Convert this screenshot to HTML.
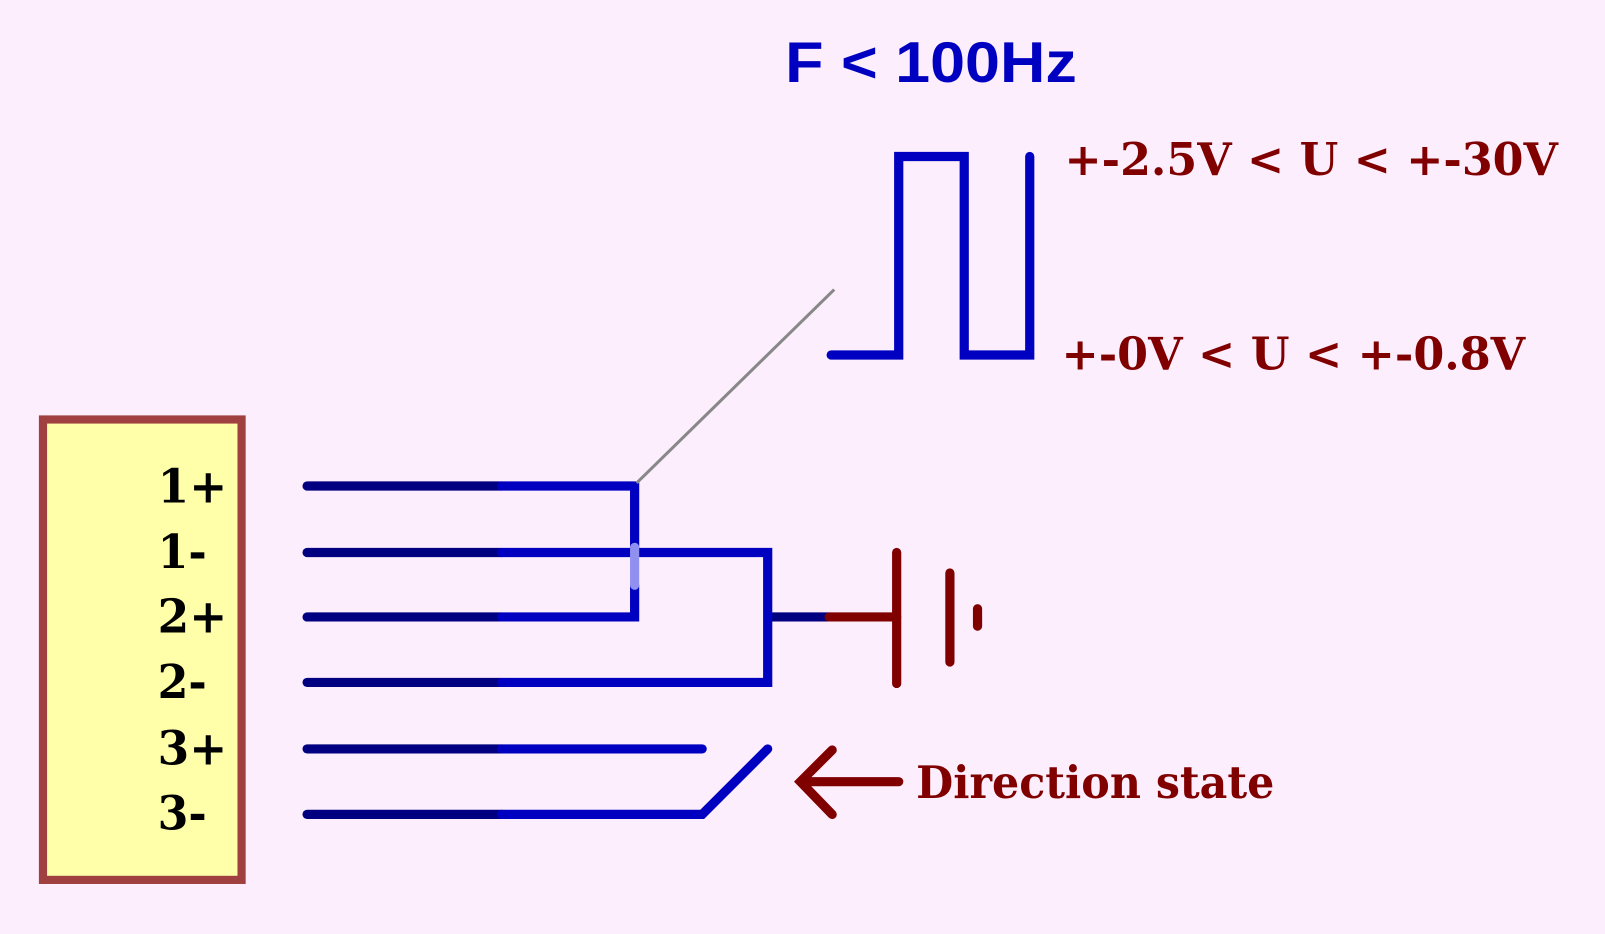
<!DOCTYPE html>
<html><head><style>html,body{margin:0;padding:0;background:#fdeefd}</style></head><body>
<svg width="1605" height="929" viewBox="0 0 1568 908" preserveAspectRatio="none" xmlns="http://www.w3.org/2000/svg">
<rect width="1568" height="908" fill="#fdeefd"/>
<rect x="42" y="410" width="194" height="450" fill="#ffffaa" stroke="#a04040" stroke-width="8"/>
<g font-family="DejaVu Serif, Liberation Serif, serif" font-weight="bold" font-size="46" fill="#000">
<text x="154" y="491" textLength="68" lengthAdjust="spacingAndGlyphs">1+</text>
<text x="154" y="555" textLength="48" lengthAdjust="spacingAndGlyphs">1-</text>
<text x="154" y="618" textLength="68" lengthAdjust="spacingAndGlyphs">2+</text>
<text x="154" y="682" textLength="48" lengthAdjust="spacingAndGlyphs">2-</text>
<text x="154" y="747" textLength="68" lengthAdjust="spacingAndGlyphs">3+</text>
<text x="154" y="811" textLength="48" lengthAdjust="spacingAndGlyphs">3-</text>
</g>
<g stroke-width="9" stroke-linecap="round" stroke-linejoin="miter" fill="none">
<g stroke="#000080">
<line x1="300" y1="475" x2="490" y2="475"/><line x1="300" y1="540" x2="490" y2="540"/>
<line x1="300" y1="603" x2="490" y2="603"/><line x1="300" y1="667" x2="490" y2="667"/>
<line x1="300" y1="732" x2="490" y2="732"/><line x1="300" y1="796" x2="490" y2="796"/>
<line x1="752" y1="603" x2="810" y2="603"/>
</g>
<g stroke="#0000c0">
<polyline points="490,475 620,475 620,535"/>
<polyline points="490,603 620,603 620,572" />
<polyline points="490,540 750,540 750,667 490,667"/>
<line x1="490" y1="732" x2="686" y2="732"/>
<polyline points="490,796 686,796 750,732"/>
<polyline points="812,347 878,347 878,153 942,153 942,347 1006,347 1006,153"/>
</g>
<line x1="620" y1="535" x2="620" y2="572" stroke="#9090f0"/>
<g stroke="#800000">
<line x1="810" y1="603" x2="876" y2="603"/>
<line x1="876" y1="540" x2="876" y2="668"/>
<line x1="928" y1="560" x2="928" y2="647"/>
<line x1="955" y1="595" x2="955" y2="612"/>
<line x1="785" y1="764" x2="878" y2="764"/>
<polyline points="813,733 782,764 813,796"/>
</g>
</g>
<line x1="622" y1="472" x2="815" y2="283" stroke="#888" stroke-width="3"/>
<text x="767" y="80" font-family="Liberation Sans, sans-serif" font-weight="bold" font-size="56" fill="#0000c0" textLength="285" lengthAdjust="spacingAndGlyphs">F &lt; 100Hz</text>
<g font-family="DejaVu Serif, Liberation Serif, serif" font-weight="bold" font-size="44" fill="#800000">
<text x="1040" y="171" textLength="482" lengthAdjust="spacingAndGlyphs">+-2.5V &lt; U &lt; +-30V</text>
<text x="1037" y="361" textLength="453" lengthAdjust="spacingAndGlyphs">+-0V &lt; U &lt; +-0.8V</text>
<text x="895" y="780" textLength="350" lengthAdjust="spacingAndGlyphs">Direction state</text>
</g>
</svg>
</body></html>
